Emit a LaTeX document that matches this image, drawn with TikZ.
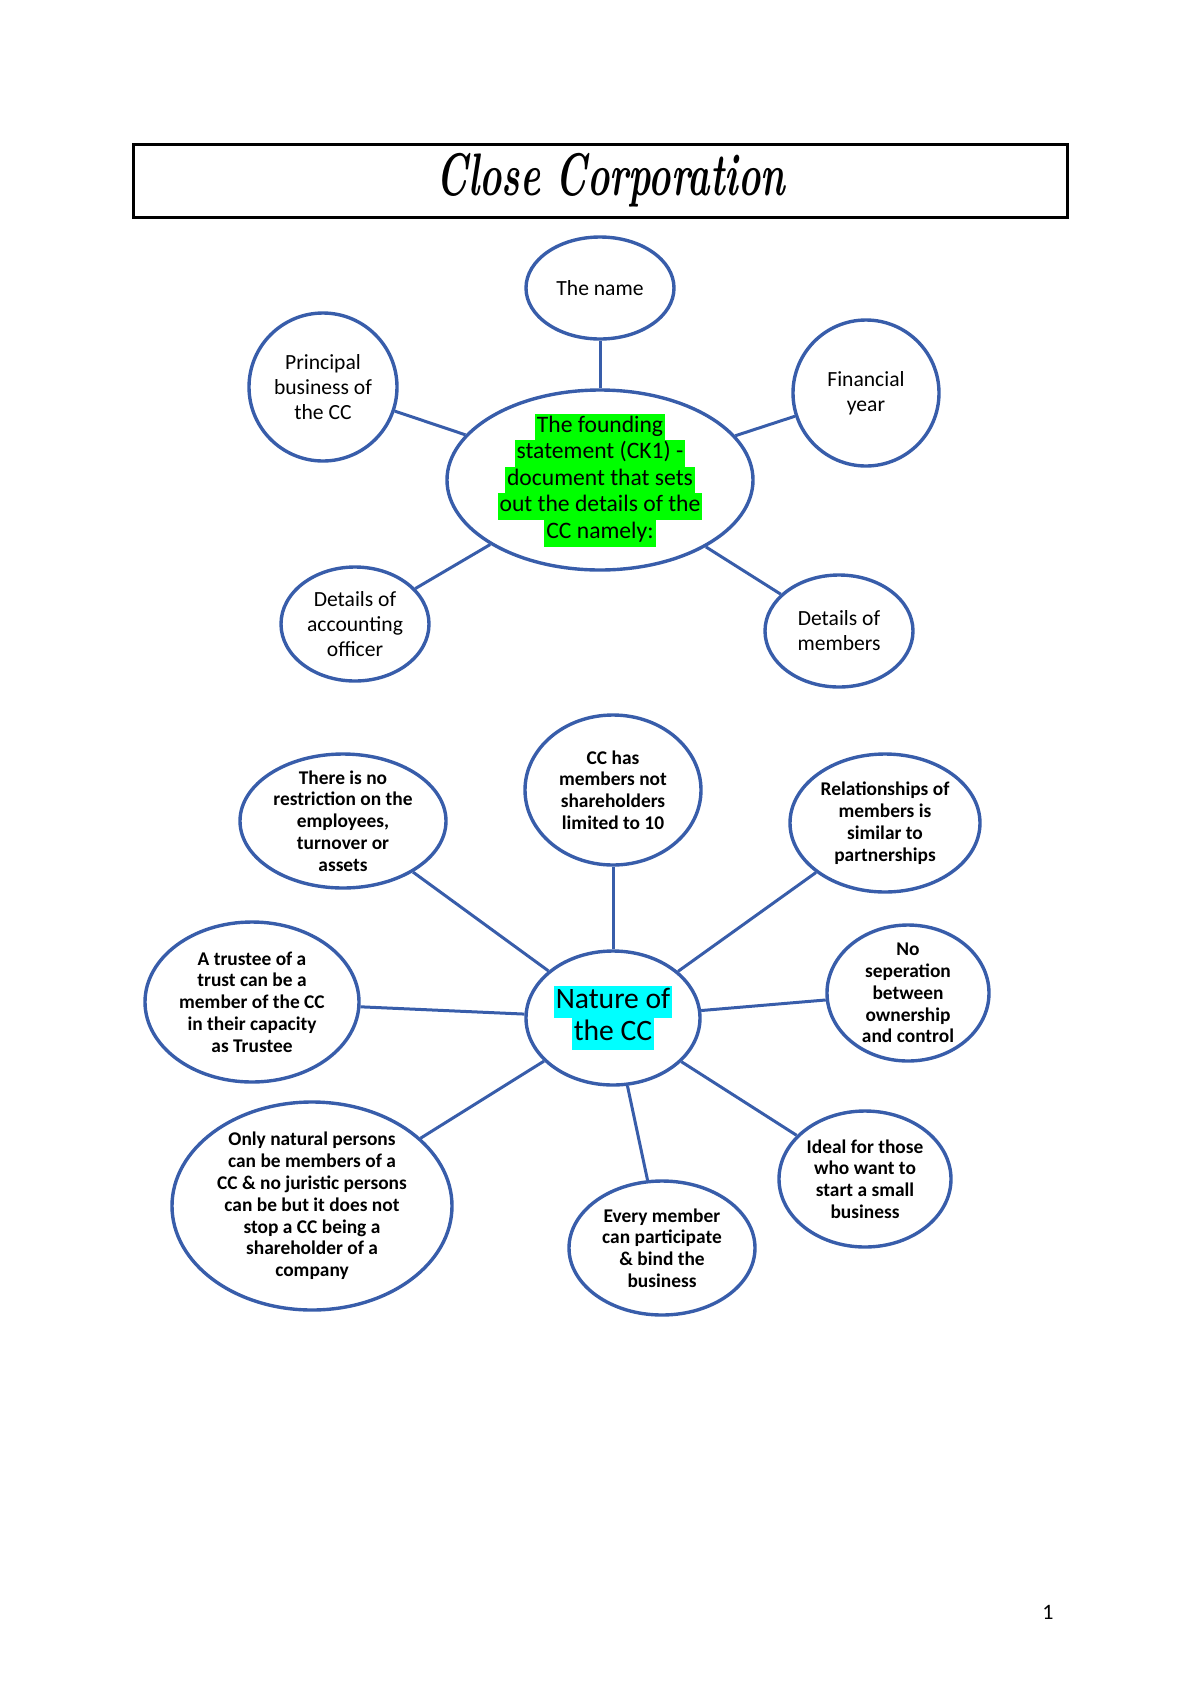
\documentclass[tikz,border=0pt]{standalone}
\usepackage{fontspec}
\newfontfamily\calfont{Carlito}
\usetikzlibrary{shapes.geometric}
\definecolor{bubblue}{RGB}{56,93,170}
\definecolor{hlgreen}{RGB}{0,255,0}
\definecolor{hlcyan}{RGB}{0,255,255}
\newcommand{\hlbox}[2]{{\setlength{\fboxsep}{0pt}\colorbox{#1}{\strut\kern1pt #2\kern1pt}}}

\begin{document}
\begin{tikzpicture}[
x=0.5pt, y=-0.5pt, % pixel grid of the page
sz/.style 2 args={minimum width=#1pt, minimum height=#2pt},
bub/.style={ellipse, draw=bubblue, line width=1.7pt, inner sep=-20pt, align=center,
  font=\calfont\fontsize{10.8}{12.5}\selectfont},
feat/.style={bub, font=\calfont\bfseries\fontsize{9.7}{10.9}\selectfont},
link/.style={draw=bubblue, line width=1.5pt}
]
\useasboundingbox (0,0) rectangle (1200,1698);

% --- Title ---
\node[draw, line width=1.5pt, sz={467}{36.5}, inner sep=0pt] (title) at (600,180.5)
  {\kern11pt\scalebox{0.63}[1]{\bfseries\itshape\fontsize{30}{32}\selectfont Close Corporation}};

% --- Founding statement ---
\node[bub, sz={153}{90}, font=\calfont\fontsize{11.8}{13.3}\selectfont] (ck) at (600,480)
  {\hlbox{hlgreen}{The founding}\\\hlbox{hlgreen}{statement (CK1) -}\\
   \hlbox{hlgreen}{document that sets}\\\hlbox{hlgreen}{out the details of the}\\
   \hlbox{hlgreen}{CC namely:}};

\node[bub, sz={74}{51}] (name) at (600,288) {The name};
\node[bub, sz={74}{74}] (princ) at (323,387) {Principal\\business of\\the CC};
\node[bub, sz={73}{73}] (finyear) at (866,393) {Financial\\year};
\node[bub, sz={74}{57}] (accoff) at (355,624) {Details of\\accounting\\officer};
\node[bub, sz={74}{56}] (members) at (839,631) {Details of\\members};

\draw[link] (ck) -- (name);
\draw[link] (ck) -- (princ);
\draw[link] (ck) -- (finyear);
\draw[link] (ck) -- (accoff);
\draw[link] (ck) -- (members);

% --- Nature of the CC ---
\node[bub, sz={87}{67}, font=\calfont\fontsize{14.8}{16.2}\selectfont] (nature) at (613,1018)
  {\hlbox{hlcyan}{Nature of}\\\hlbox{hlcyan}{the CC}};

\node[feat, sz={88}{75}] (tenmax) at (613,790) {CC has\\members not\\shareholders\\limited to 10};
\node[feat, sz={103}{67}] (norestr) at (343,821) {There is no\\restriction on the\\employees,\\turnover or\\assets};
\node[feat, sz={95}{69}] (partner) at (885,823) {Relationships of\\members is\\similar to\\partnerships};
\node[feat, sz={107}{80}] (trustee) at (252,1002) {A trustee of a\\trust can be a\\member of the CC\\in their capacity\\as Trustee};
\node[feat, sz={81}{68}] (nosep) at (908,993) {No\\seperation\\between\\ownership\\and control};
\node[feat, sz={140}{104}] (natural) at (312,1206) {Only natural persons\\can be members of a\\CC \& no juristic persons\\can be but it does not\\stop a CC being a\\shareholder of a\\company};
\node[feat, sz={93}{67}] (bind) at (662,1248) {Every member\\can participate\\\& bind the\\business};
\node[feat, sz={86}{68}] (small) at (865,1179) {Ideal for those\\who want to\\start a small\\business};

\foreach \n in {tenmax,norestr,partner,trustee,nosep,natural,bind,small}
  \draw[link] (nature) -- (\n);

% page number
\node[font=\calfont\fontsize{11}{13}\selectfont] (pgnum) at (1048,1612) {1};
\end{tikzpicture}
\end{document}
